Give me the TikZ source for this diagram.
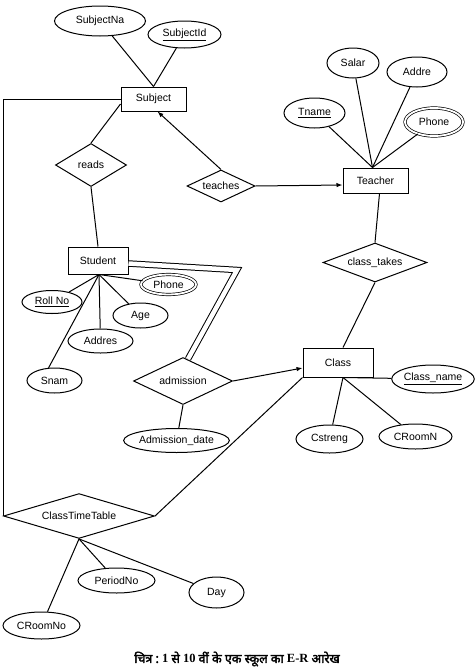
\documentclass[tikz,border=0pt]{standalone}
\usepackage{fontspec}
\setmainfont{Liberation Sans}
\newfontfamily\devfont[Script=Devanagari, AutoFakeBold=2.5]{Noto Sans}
\newfontfamily\capserif{Liberation Serif}
\usetikzlibrary{shapes.geometric,arrows.meta}
\begin{document}
\begin{tikzpicture}[x=1pt,y=-1pt,
  every node/.style={font=\fontsize{10.5}{12}\selectfont, inner sep=0pt},
  ent/.style={draw, line width=1pt, rectangle},
  attr/.style={draw, line width=1pt, ellipse},
  mattr/.style={draw, line width=0.7pt, ellipse, double, double distance=1.8pt},
  rel/.style={draw, line width=1pt, diamond, aspect=2},
  ln/.style={line width=1pt},
  arr/.style={line width=1pt, -{Latex[length=6pt,width=4.5pt]}}
]
\useasboundingbox (0,0) rectangle (474,672);

% Entities
\node[ent, minimum width=65pt, minimum height=24pt] (subject) at (153.5,99) {Subject};
\node[ent, minimum width=65pt, minimum height=25pt] (teacher) at (375.5,180.5) {Teacher};
\node[ent, minimum width=60pt, minimum height=27pt] (student) at (98,260.5) {Student};
\node[ent, minimum width=70pt, minimum height=29pt] (class) at (338,362.5) {Class};

% Relationships
\node[rel, minimum width=71pt, minimum height=43pt] (reads) at (91,165) {reads};
\node[rel, minimum width=68pt, minimum height=32pt] (teaches) at (221,186) {teaches};
\node[rel, minimum width=104pt, minimum height=39pt] (ctakes) at (375,262.5) {class\_takes};
\node[rel, minimum width=99pt, minimum height=47pt] (adm) at (183,381) {admission};
\node[rel, minimum width=151pt, minimum height=38pt] (ctt) at (79,516) {ClassTimeTable};

% Subject attributes
\node[attr, minimum width=91pt, minimum height=30pt] (sname) at (100,21) {SubjectNa};
\node[attr, minimum width=73pt, minimum height=27pt] (sid) at (184.5,34.5) {\underline{SubjectId}};

% Teacher attributes
\node[attr, minimum width=52pt, minimum height=30pt] (salar) at (353,63) {Salar};
\node[attr, minimum width=60pt, minimum height=30pt] (taddre) at (417,72) {Addre};
\node[attr, minimum width=61pt, minimum height=30pt] (tname) at (314.5,113) {\underline{Tname}};
\node[mattr, minimum width=58pt, minimum height=28pt] (tphone) at (434,122) {Phone};

% Student attributes
\node[attr, minimum width=60pt, minimum height=23pt] (roll) at (52,302) {\underline{Roll No}};
\node[mattr, minimum width=55pt, minimum height=20pt] (sphone) at (168.5,284.5) {Phone};
\node[attr, minimum width=55pt, minimum height=25pt] (age) at (140.5,315.5) {Age};
\node[attr, minimum width=65pt, minimum height=24pt] (saddr) at (100.5,341) {Addres};
\node[attr, minimum width=55pt, minimum height=25pt] (snam) at (54.5,380.5) {Snam};
\node[attr, minimum width=101pt, minimum height=24pt] (admdate) at (176.5,440.5) {Admission\_date};

% Class attributes
\node[attr, minimum width=76pt, minimum height=28pt] (cname) at (433,379) {\underline{Class\_name}};
\node[attr, minimum width=67pt, minimum height=28pt] (cstreng) at (329.5,439) {Cstreng};
\node[attr, minimum width=73pt, minimum height=25pt] (croomn) at (415.5,436.5) {CRoomN};

% ClassTimeTable attributes
\node[attr, minimum width=77pt, minimum height=27pt] (croomno) at (41.5,625.5) {CRoomNo};
\node[attr, minimum width=77pt, minimum height=25pt] (period) at (116.5,580.5) {PeriodNo};
\node[attr, minimum width=55pt, minimum height=31pt] (day) at (216.5,592.5) {Day};

% Caption
\node[font=\fontsize{12.5}{14}\selectfont\bfseries] (cap) at (237,659) {\devfont चित्र :\capserif\ 1 \devfont से\capserif\ 10 \devfont वीं के एक स्कूल का \capserif E-R \devfont आरेख};

% Connectors: Subject
\draw[ln] (sname) -- (subject.north);
\draw[ln] (sid) -- (subject.north);
\draw[ln] (reads.north) -- ([yshift=-5pt]subject.west);
\draw[ln] (reads.south) -- (student.north);
\draw[arr] (teaches.north) -- ([xshift=4pt]subject.south);
\draw[arr] (teaches.east) -- ([yshift=-4.5pt]teacher.west);
\draw[ln] (ctt.west) |- (subject.west);

% Teacher
\coordinate (tTop) at ([xshift=-3pt]teacher.north);
\draw[ln] (salar) -- (tTop);
\draw[ln] (taddre) -- (tTop);
\draw[ln] (tname) -- (tTop);
\draw[ln] (tphone) -- (tTop);
\draw[ln] ([xshift=4pt]teacher.south) -- (ctakes.north);
\draw[ln] (ctakes.south) -- ([xshift=5pt]class.north);

% Student
\coordinate (sBot) at ([xshift=1pt]student.south);
\draw[ln] (roll) -- (sBot);
\draw[ln] (sphone) -- (sBot);
\draw[ln] (age) -- (sBot);
\draw[ln] (saddr) -- (sBot);
\draw[ln] (snam.115) -- (sBot);
\coordinate (admCorner) at (237,270);
\draw[line width=1pt, double, double distance=4.5pt] ([yshift=-3pt]student.east) -- (admCorner) -- ([xshift=5pt,yshift=-2pt]adm.north);
\draw[ln] (adm.south) -- (admdate);
\draw[arr] (adm.east) -- ([yshift=-5.5pt]class.west);

% Class
\coordinate (cBot) at ([xshift=5pt]class.south);
\draw[ln] (cBot) -- (cname);
\draw[ln] (cBot) -- (cstreng);
\draw[ln] (cBot) -- (croomn);
\draw[ln] (ctt.east) -- (class.south west);

% ClassTimeTable
\draw[ln] (ctt.south) -- (croomno);
\draw[ln] (ctt.south) -- (period);
\draw[ln] (ctt.south) -- (day);
\end{tikzpicture}
\end{document}
